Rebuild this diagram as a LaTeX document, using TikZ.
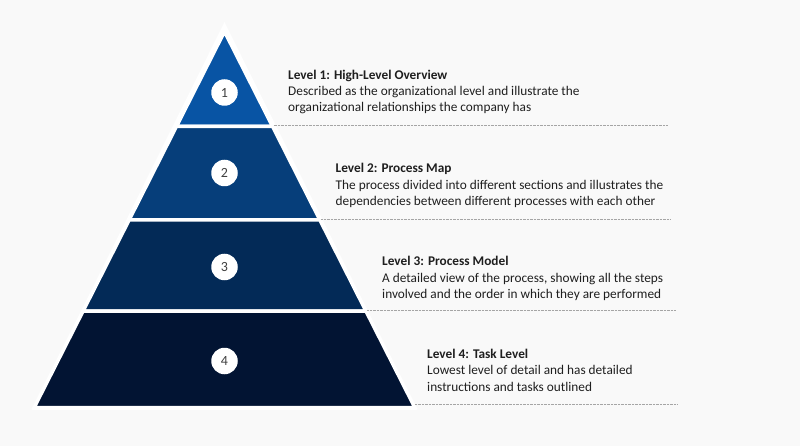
\documentclass[tikz,border=0pt]{standalone}
\usepackage{fontspec}
\setmainfont{Carlito}
\usetikzlibrary{positioning}

\definecolor{bgcol}{RGB}{249,249,249}
\definecolor{levelone}{RGB}{8,84,164}
\definecolor{leveltwo}{RGB}{6,62,122}
\definecolor{levelthree}{RGB}{3,42,87}
\definecolor{levelfour}{RGB}{2,20,51}
\definecolor{numgray}{RGB}{64,64,64}
\definecolor{rulegray}{RGB}{165,165,165}

\begin{document}
\begin{tikzpicture}[x=1pt, y=-1pt,
    band/.style={draw=white, line width=3.5pt, line join=miter},
    num/.style={fill=white, circle, minimum size=26.5pt, inner sep=0pt, text=numgray, font=\fontsize{14}{14}\selectfont},
    desc/.style={anchor=base west, align=left, inner sep=0pt, text=black!88, font=\fontsize{13.3}{16.3}\selectfont},
    rule/.style={draw=rulegray, line width=0.6pt, dash pattern=on 0.7pt off 0.7pt}]

    % Background
    \fill[bgcol] (0,0) rectangle (800,446);
    \fill[white] (224.5,22) -- (417,410) -- (32,410) -- cycle;

    %% Pyramid
    % Corners
    \coordinate (apex) at (224.5,31.5);
    \coordinate (cut1l) at (176.4,126.5);
    \coordinate (cut1r) at (272.6,126.5);
    \coordinate (cut2l) at (129.1,220);
    \coordinate (cut2r) at (319.9,220);
    \coordinate (cut3l) at (83.1,311);
    \coordinate (cut3r) at (365.9,311);
    \coordinate (basel) at (34.2,407.5);
    \coordinate (baser) at (414.8,407.5);

    % Bands
    \filldraw[band, fill=levelone] (apex) -- (cut1r) -- (cut1l) -- cycle;
    \filldraw[band, fill=leveltwo] (cut1l) -- (cut1r) -- (cut2r) -- (cut2l) -- cycle;
    \filldraw[band, fill=levelthree] (cut2l) -- (cut2r) -- (cut3r) -- (cut3l) -- cycle;
    \filldraw[band, fill=levelfour] (cut3l) -- (cut3r) -- (baser) -- (basel) -- cycle;

    % Numbers
    \node[num] (num1) at (224.5,92.5) {1};
    \node[num] (num2) at (224.5,173) {2};
    \node[num] (num3) at (224.5,267) {3};
    \node[num] (num4) at (224.5,361) {4};

    %% Descriptions
    % Nodes (anchored on the last line)
    \node[desc] (lvl1) at (288,112) {\textbf{Level 1: High-Level Overview}\\Described as the organizational level and illustrate the\\organizational relationships the company has};
    \node[desc] (lvl2) at (335.5,205.5) {\textbf{Level 2: Process Map}\\The process divided into different sections and illustrates the\\dependencies between different processes with each other};
    \node[desc] (lvl3) at (382,298.5) {\textbf{Level 3: Process Model}\\A detailed view of the process, showing all the steps\\involved and the order in which they are performed};
    \node[desc] (lvl4) at (427,391) {\textbf{Level 4: Task Level}\\Lowest level of detail and has detailed\\instructions and tasks outlined};

    % Rules
    \coordinate (end1) at (668,125.7);
    \coordinate (end2) at (670.5,219);
    \coordinate (end3) at (675,310.7);
    \coordinate (end4) at (677,404.5);
    \draw[rule] ([xshift=1pt]cut1r |- end1) -- (end1);
    \draw[rule] ([xshift=1pt]cut2r |- end2) -- (end2);
    \draw[rule] ([xshift=1pt]cut3r |- end3) -- (end3);
    \draw[rule] ([xshift=0pt]baser |- end4) -- (end4);
\end{tikzpicture}
\end{document}
